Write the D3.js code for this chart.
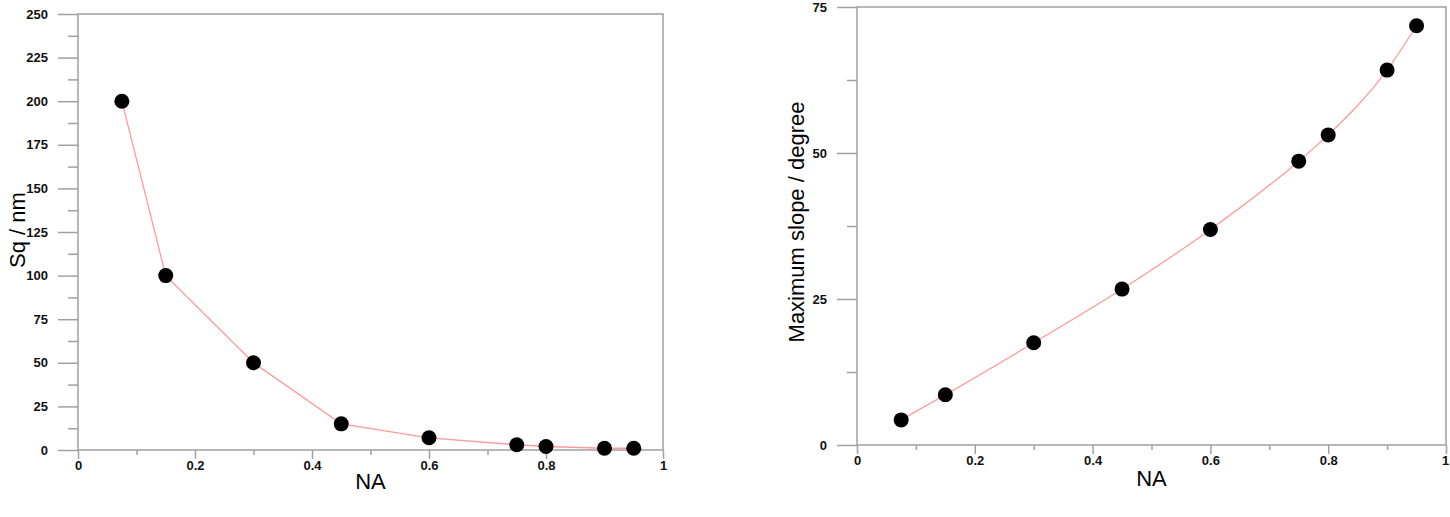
<!DOCTYPE html>
<html>
<head>
<meta charset="utf-8">
<script src="https://cdn.jsdelivr.net/npm/d3@7"></script>
<style>
  body { margin: 0; background: #fff; }
  svg { display: block; }
  .tick text { font-family: "Liberation Sans", Arial, sans-serif; font-weight: bold; font-size: 13px; fill: #111; }
  .tick line { stroke: #a0a0a0; stroke-width: 1.5; }
  .frame { stroke: #a0a0a0; stroke-width: 1.5; fill: none; }
  .title { font-family: "Liberation Sans", Arial, sans-serif; font-size: 22px; fill: #000; }
  .line { fill: none; stroke: #ff9a9a; stroke-width: 1.3; }
</style>
</head>
<body>
<div id="chart"></div>
<script>
// datos
var naValues = [0.075, 0.15, 0.3, 0.45, 0.6, 0.75, 0.8, 0.9, 0.95];
var sqValues = [200, 100, 50, 15, 7, 3, 2, 1, 1];
var slopeValues = [4.3, 8.6, 17.5, 26.7, 36.9, 48.6, 53.1, 64.2, 71.8];

var xTicks = [0, 0.2, 0.4, 0.6, 0.8, 1];
var xMinor = [0.1, 0.3, 0.5, 0.7, 0.9];
var sqTicks = [0, 25, 50, 75, 100, 125, 150, 175, 200, 225, 250];
var sqMinor = [12.5, 37.5, 62.5, 87.5, 112.5, 137.5, 162.5, 187.5, 212.5, 237.5];
var slopeTicks = [0, 25, 50, 75];
var slopeMinor = [12.5, 37.5, 62.5];

var svg = d3.select("#chart").append("svg")
    .attr("width", 1450)
    .attr("height", 517);

// dibuja un panel completo
function panel(opts) {
  var x = d3.scaleLinear().domain([0, 1]).range([opts.left, opts.right]);
  var y = d3.scaleLinear().domain(opts.yDomain).range([opts.bottom, opts.top]);
  var g = svg.append("g");

  // ticks menores
  g.append("g")
      .attr("transform", "translate(" + opts.left + ",0)")
      .call(d3.axisLeft(y).tickValues(opts.yMinor).tickSize(10).tickFormat(""))
      .call(function(s) { s.select(".domain").remove(); });
  g.append("g")
      .attr("transform", "translate(0," + opts.bottom + ")")
      .call(d3.axisBottom(x).tickValues(xMinor).tickSize(5).tickFormat(""))
      .call(function(s) { s.select(".domain").remove(); });

  // ticks mayores
  g.append("g")
      .attr("transform", "translate(" + opts.left + ",0)")
      .call(d3.axisLeft(y).tickValues(opts.yTicks).tickSize(20).tickPadding(10).tickFormat(d3.format("d")))
      .call(function(s) { s.select(".domain").remove(); });
  var xa = g.append("g")
      .attr("transform", "translate(0," + opts.bottom + ")")
      .call(d3.axisBottom(x).tickValues(xTicks).tickSize(9).tickPadding(2).tickFormat(function(d) { return d3.format("")(d); }))
      .call(function(s) { s.select(".domain").remove(); });
  // la ultima etiqueta pegada al borde
  xa.selectAll(".tick text").filter(function(d) { return d === 1; })
      .attr("dx", opts.lastDx);

  // marco
  g.append("path")
      .attr("class", "frame")
      .attr("d", "M" + opts.left + "," + opts.bottom + "V" + opts.top + "H" + opts.right + "V" + opts.bottom + "H" + opts.left);

  // linea
  var line = d3.line()
      .x(function(d, i) { return x(naValues[i]); })
      .y(function(d) { return y(d); })
      .curve(opts.curve);
  g.append("path")
      .attr("class", "line")
      .attr("d", line(opts.values));

  // puntos
  g.selectAll("circle")
      .data(opts.values)
    .enter().append("circle")
      .attr("cx", function(d, i) { return x(naValues[i]); })
      .attr("cy", function(d) { return y(d); })
      .attr("r", 7.5)
      .attr("fill", "#000");

  // titulos
  g.append("text")
      .attr("class", "title")
      .attr("text-anchor", "middle")
      .attr("x", (opts.left + opts.right) / 2)
      .attr("y", opts.naY)
      .text("NA");
  g.append("text")
      .attr("class", "title")
      .attr("text-anchor", "middle")
      .attr("transform", "translate(" + opts.yTitleX + "," + opts.yTitleY + ") rotate(-90)")
      .text(opts.yTitle);
}

panel({
  left: 78, right: 663, top: 14, bottom: 450,
  yDomain: [0, 250], yTicks: sqTicks, yMinor: sqMinor,
  values: sqValues, curve: d3.curveLinear, lastDx: 0,
  naY: 489, yTitleX: 25, yTitleY: 230, yTitle: "Sq / nm"
});

panel({
  left: 857, right: 1446, top: 7, bottom: 445,
  yDomain: [0, 75], yTicks: slopeTicks, yMinor: slopeMinor,
  values: slopeValues, curve: d3.curveMonotoneX, lastDx: -1,
  naY: 486, yTitleX: 804, yTitleY: 222, yTitle: "Maximum slope / degree"
});
</script>
</body>
</html>
